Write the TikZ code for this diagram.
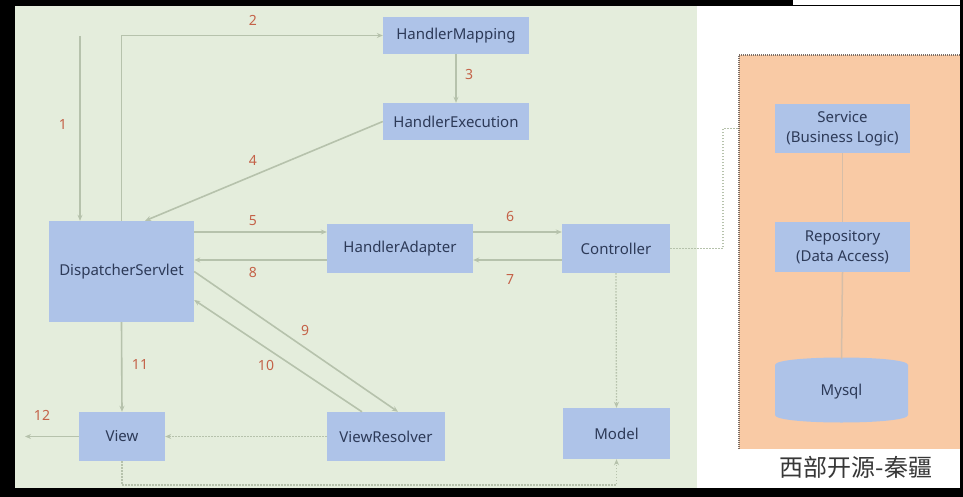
\documentclass[tikz,border=0pt]{standalone}
\usepackage{fontspec}
\setmainfont{Noto Sans}
\newfontfamily\cjk{Noto Sans CJK SC}
\usetikzlibrary{arrows.meta,calc}
\definecolor{bggreen}{RGB}{228,237,220}
\definecolor{boxblue}{RGB}{174,195,232}
\definecolor{txtblue}{RGB}{45,58,88}
\definecolor{arrgray}{RGB}{182,194,172}
\definecolor{lblred}{RGB}{196,98,72}
\definecolor{orangebg}{RGB}{249,202,165}
\definecolor{dotbrown}{RGB}{125,110,100}
\definecolor{bizline}{RGB}{214,190,168}
\begin{document}
\begin{tikzpicture}[x=1pt,y=-1pt,
  box/.style={fill=boxblue, text=txtblue, font=\fontsize{15}{20}\selectfont, inner sep=0pt, align=center},
  arr/.style={draw=arrgray, line width=1.6pt, -{Stealth[length=6pt,width=5pt]}},
  dotline/.style={draw=arrgray, line width=1.3pt, dash pattern=on 1.5pt off 1.5pt},
  dotarr/.style={dotline, -{Stealth[length=6pt,width=5pt]}},
  lbl/.style={text=lblred, font=\fontsize{14}{16}\selectfont, inner sep=0pt}]
\useasboundingbox (0,0) rectangle (963,497);
% screen background
\fill[black] (0,0) rectangle (963,497);
\fill[bggreen] (15,6) rectangle (697,488);
\fill[white] (697,6) rectangle (960,488);
\fill[white] (793,0) rectangle (960,5);
% business area
\node[fill=orangebg, inner sep=0pt, minimum width=221pt, minimum height=394pt, anchor=north west] (biz) at (739,55) {};
\draw[dotbrown, line width=1.2pt, dash pattern=on 1pt off 1pt] (biz.north east) -- (biz.north west) -- (biz.south west);
% nodes
\node[box, minimum width=146pt, minimum height=37pt] (HM) at (456,35.5) {HandlerMapping};
\node[box, minimum width=146pt, minimum height=37pt] (HE) at (456,121.5) {HandlerExecution};
\node[box, minimum width=145pt, minimum height=101pt] (DS) at (121.5,271.5) {DispatcherServlet};
\node[box, minimum width=146pt, minimum height=49pt] (HA) at (400,248.5) {HandlerAdapter};
\node[box, minimum width=108pt, minimum height=49pt] (Ctrl) at (616,248.5) {Controller};
\node[box, minimum width=107pt, minimum height=51pt] (Model) at (616.5,433.5) {Model};
\node[box, minimum width=118pt, minimum height=49pt] (VR) at (386,436.5) {ViewResolver};
\node[box, minimum width=86pt, minimum height=49pt] (View) at (122,436.5) {View};
\node[box, minimum width=135pt, minimum height=49pt] (Svc) at (842.5,128.5) {Service\\(Business Logic)};
\node[box, minimum width=135pt, minimum height=50pt] (Repo) at (842.5,247) {Repository\\(Data Access)};
\fill[boxblue] (775,365) .. controls (775,355) and (908,355) .. (908,365) -- (908,415) .. controls (908,425) and (775,425) .. (775,415) -- cycle;
\node[box, fill=none, minimum width=133pt, minimum height=66pt] (db) at (841.5,392) {Mysql};
% helper coordinates
\coordinate (in1) at (80,36);
\coordinate (out12) at (25,436.5);
\coordinate (a5) at ([yshift=16.5pt]HA.west);
\coordinate (b8) at ([yshift=-11.5pt]HA.west);
\coordinate (a6) at ([yshift=16.5pt]HA.east);
\coordinate (b7) at ([yshift=-11.5pt]Ctrl.west);
\coordinate (d4) at ([xshift=23.5pt]DS.north);
\coordinate (v9) at ([xshift=12pt]VR.north);
\coordinate (v10) at ([xshift=-24pt]VR.north);
\coordinate (d10) at ([yshift=-28.5pt]DS.east);
\coordinate (bot) at (0,485);
\coordinate (cb) at (723,0);
% connectors
\draw[arr] (in1) -- (in1 |- DS.north);
\draw[arr] (DS.north) |- (HM.west);
\draw[arr] (HM.south) -- (HE.north);
\draw[arr] (HE.west) -- (d4);
\draw[arr] (DS.east |- a5) -- (a5);
\draw[arr] (a6) -- (Ctrl.west |- a6);
\draw[arr] (b7) -- (HA.east |- b7);
\draw[arr] (b8) -- (DS.east |- b8);
\draw[arr] (DS.east) -- (v9);
\draw[arr] (v10) -- (d10);
\draw[arr] (DS.south) -- (View.north);
\draw[dotarr] (VR.west) -- (View.east);
\draw[arr] (View.west) -- (out12);
\draw[dotarr] (Ctrl.south) -- (Model.north);
\draw[dotarr] (View.south) -- (View.south |- bot) -| (Model.south);
\draw[dotline] (Ctrl.east) -- (Ctrl.east -| cb) |- (Svc.west -| biz.west);
\draw[bizline, line width=1.5pt] (Svc.south) -- (Repo.north);
\draw[bizline, line width=1.5pt] (Repo.south) -- (db.north);
% labels
\node[lbl] (l1) at (63,125) {1};
\node[lbl] (l2) at (253,20) {2};
\node[lbl] (l3) at (469,75) {3};
\node[lbl] (l4) at (253,160) {4};
\node[lbl] (l5) at (253,221) {5};
\node[lbl] (l6) at (510,217) {6};
\node[lbl] (l7) at (510,280) {7};
\node[lbl] (l8) at (253,273) {8};
\node[lbl] (l9) at (305,330) {9};
\node[lbl] (l10) at (266,365) {10};
\node[lbl] (l11) at (140,364) {11};
\node[lbl] (l12) at (42,415) {12};
% caption
\node[text={rgb,255:red,55;green,55;blue,55}, font=\cjk\fontsize{24}{27}\selectfont, inner sep=0pt] (cap) at (856,467) {西部开源-秦疆};
% right screen edge
\fill[black] (960,0) rectangle (963,497);
\fill[black] (0,488) rectangle (963,497);
\end{tikzpicture}
\end{document}
